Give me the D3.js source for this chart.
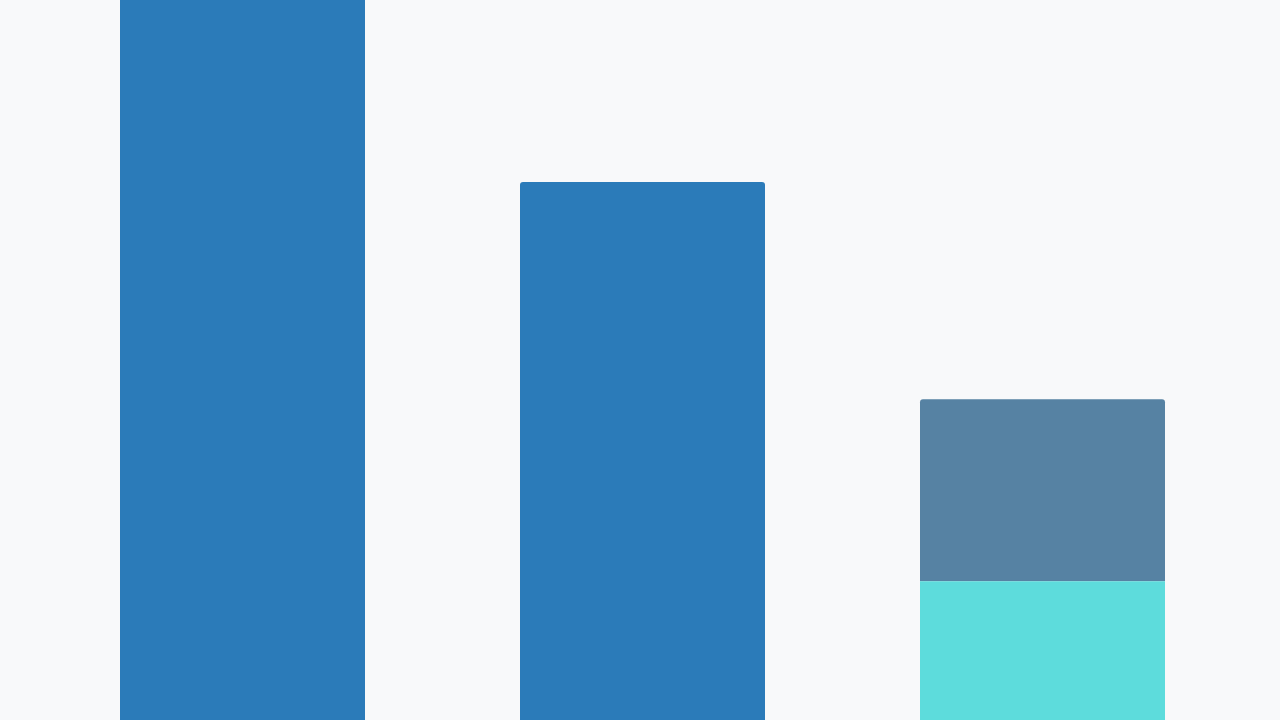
<!DOCTYPE html>
<meta charset="utf-8">
<script src="https://d3js.org/d3.v7.min.js"></script>
<style>
  html, body { margin: 0; padding: 0; background: #f8f9fa; overflow: hidden; }
</style>
<div id="my_dataviz"></div>
<script>
// data
var categories = ["A", "B", "C"];
var baseValues = [140, 100, 25.8]; // lower segment of each bar
var topValues  = [0, 0, 33.8];     // upper segment (only the third bar is stacked)
var baseColors = ["#2b7bb9", "#2b7bb9", "#5ddcdc"];
var topColor = "#5682a3";

var width = 1280, height = 720;

var svg = d3.select("#my_dataviz")
  .append("svg")
    .attr("width", width)
    .attr("height", height)
    .style("display", "block")
    .style("background", "#f8f9fa");

var x = d3.scaleBand()
  .domain(categories)
  .range([42.5, 1242.5])
  .paddingInner(0.3875)
  .paddingOuter(0.19375);

var y = d3.scaleLinear()
  .domain([0, 100])
  .range([height, 182]);

// bar path with rounded top corners only
function topRounded(x0, y0, w, h, r) {
  r = Math.min(r, h);
  return "M" + x0 + "," + (y0 + h) +
    "V" + (y0 + r) +
    "Q" + x0 + "," + y0 + " " + (x0 + r) + "," + y0 +
    "H" + (x0 + w - r) +
    "Q" + (x0 + w) + "," + y0 + " " + (x0 + w) + "," + (y0 + r) +
    "V" + (y0 + h) + "Z";
}

var rows = categories.map(function(c, i) {
  return { cat: c, base: baseValues[i], top: topValues[i], color: baseColors[i] };
});

// upper segments
svg.append("g")
  .selectAll("path")
  .data(rows.filter(function(d) { return d.top > 0; }))
  .enter()
  .append("path")
    .attr("fill", topColor)
    .attr("d", function(d) {
      var y1 = y(d.base + d.top), y0 = y(d.base);
      return topRounded(x(d.cat), y1, x.bandwidth(), y0 - y1, 3);
    });

// lower segments
svg.append("g")
  .selectAll("path")
  .data(rows)
  .enter()
  .append("path")
    .attr("fill", function(d) { return d.color; })
    .attr("d", function(d) {
      var y1 = y(d.base), h = y(0) - y1;
      if (d.top > 0) {
        return "M" + x(d.cat) + "," + y1 + "h" + x.bandwidth() + "v" + h + "h" + (-x.bandwidth()) + "Z";
      }
      return topRounded(x(d.cat), y1, x.bandwidth(), h, 3);
    });
</script>
